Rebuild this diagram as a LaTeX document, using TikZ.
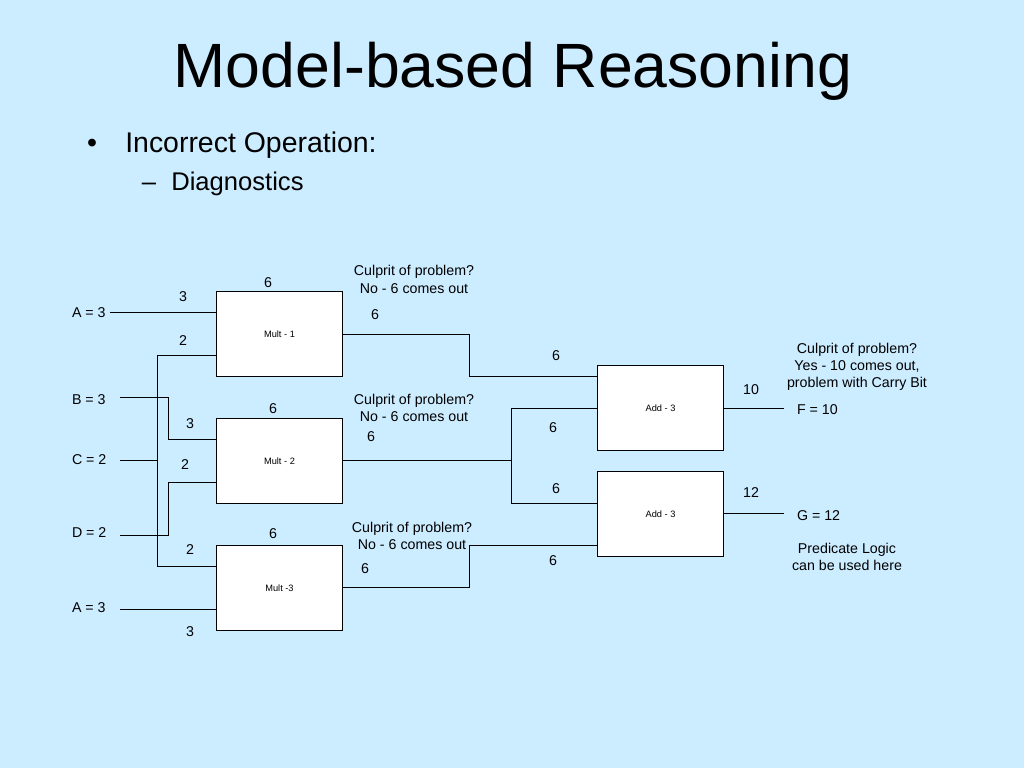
\documentclass[tikz,border=0pt]{standalone}
\usepackage{fontspec}
\setmainfont{Liberation Sans}
\definecolor{bg}{RGB}{204,236,255}
\begin{document}
\begin{tikzpicture}[x=0.703125pt,y=-0.703125pt,
  lbl/.style={inner sep=0pt, outer sep=0pt, font=\fontsize{10}{12}\selectfont, anchor=base},
  lblw/.style={lbl, anchor=base west},
  gate/.style={draw, fill=white, line width=0.8pt, minimum width=88.59pt, minimum height=59.77pt, inner sep=0pt, outer sep=0pt, font=\fontsize{6.5}{8}\selectfont},
  wire/.style={line width=0.8pt}]
\fill[bg] (0,0) rectangle (1024,768);
\useasboundingbox (0,0) rectangle (1024,768);

% title and bullets
\node[inner sep=0pt, anchor=base, font=\fontsize{44}{53}\selectfont] (title) at (513,88) {Model-based Reasoning};
\node[inner sep=0pt, anchor=base, font=\fontsize{20}{24}\selectfont] (b1) at (92,153) {•};
\node[inner sep=0pt, anchor=base west, font=\fontsize{20}{24}\selectfont] (t1) at (125,153) {Incorrect Operation:};
\node[inner sep=0pt, anchor=base, font=\fontsize{18}{22}\selectfont] (b2) at (149,191) {–};
\node[inner sep=0pt, anchor=base west, font=\fontsize{18}{22}\selectfont] (t2) at (171,191) {Diagnostics};

% gates
\node[gate] (m1) at (279.5,334) {Mult - 1};
\node[gate] (m2) at (279.5,461) {Mult - 2};
\node[gate] (m3) at (279.5,588) {Mult -3};
\node[gate] (a1) at (660.5,408) {Add - 3};
\node[gate] (a2) at (660.5,514) {Add - 3};

% input labels
\node[lblw] (lA1) at (72,318) {A = 3};
\node[lblw] (lB) at (72,404) {B = 3};
\node[lblw] (lC) at (72,464) {C = 2};
\node[lblw] (lD) at (72,537) {D = 2};
\node[lblw] (lA2) at (72,612) {A = 3};

% coordinates
\coordinate (inA1) at (110,312.5);
\coordinate (jc1) at (157.5,355.5);
\coordinate (jc2) at (157.5,566.5);
\coordinate (inC) at (120,460.5);
\coordinate (inB) at (120,397.5);
\coordinate (jb) at (168.5,397.5);
\coordinate (jb2) at (168.5,439.5);
\coordinate (inD) at (120,535.5);
\coordinate (jd) at (168.5,535.5);
\coordinate (jd2) at (168.5,482.5);
\coordinate (inA2) at (120,609.5);
\coordinate (o1) at (469.5,334.5);
\coordinate (o1b) at (469.5,376.5);
\coordinate (j2) at (511.5,460.5);
\coordinate (j2a) at (511.5,408.5);
\coordinate (j2b) at (511.5,503.5);
\coordinate (o3) at (469.5,587.5);
\coordinate (o3b) at (469.5,545.5);
\coordinate (outF) at (783.5,408.5);
\coordinate (outG) at (783.5,513.5);

% wires
\draw[wire] (inA1) -- (inA1 -| m1.west);
\draw[wire] (m1.west |- jc1) -- (jc1) -- (jc2) -- (jc2 -| m3.west);
\draw[wire] (inC) -- (inC -| jc1);
\draw[wire] (inB) -- (jb) -- (jb2) -- (jb2 -| m2.west);
\draw[wire] (inD) -- (jd) -- (jd2) -- (jd2 -| m2.west);
\draw[wire] (inA2) -- (inA2 -| m3.west);
\draw[wire] (m1.east |- o1) -- (o1) -- (o1b) -- (o1b -| a1.west);
\draw[wire] (m2.east |- j2) -- (j2);
\draw[wire] (j2a -| a1.west) -- (j2a) -- (j2b) -- (j2b -| a2.west);
\draw[wire] (m3.east |- o3) -- (o3) -- (o3b) -- (o3b -| a2.west);
\draw[wire] (a1.east |- outF) -- (outF);
\draw[wire] (a2.east |- outG) -- (outG);

% value labels
\node[lbl] (v1) at (183,302) {3};
\node[lbl] (v2) at (183,345) {2};
\node[lbl] (v3) at (190,428) {3};
\node[lbl] (v4) at (185,469) {2};
\node[lbl] (v5) at (190,554) {2};
\node[lbl] (v6) at (190,636) {3};
\node[lbl] (v7) at (268,287) {6};
\node[lbl] (v8) at (273,413) {6};
\node[lbl] (v9) at (273,538) {6};
\node[lbl] (v10) at (375,320) {6};
\node[lbl] (v11) at (371,441) {6};
\node[lbl] (v12) at (365,573) {6};
\node[lbl] (v13) at (556,360) {6};
\node[lbl] (v14) at (553,432) {6};
\node[lbl] (v15) at (556,493) {6};
\node[lbl] (v16) at (553,565) {6};
\node[lbl] (v17) at (751,394) {10};
\node[lbl] (v18) at (751,497) {12};

% notes
\node[lbl] (c1a) at (414,276) {Culprit of problem?};
\node[lbl] (c1b) at (414,293) {No - 6 comes out};
\node[lbl] (c2a) at (414,404) {Culprit of problem?};
\node[lbl] (c2b) at (414,421) {No - 6 comes out};
\node[lbl] (c3a) at (412,532) {Culprit of problem?};
\node[lbl] (c3b) at (412,549) {No - 6 comes out};
\node[lbl] (c4a) at (857,353) {Culprit of problem?};
\node[lbl] (c4b) at (857,370) {Yes - 10 comes out,};
\node[lbl] (c4c) at (857,387) {problem with Carry Bit};
\node[lblw] (lF) at (797,414) {F = 10};
\node[lblw] (lG) at (797,520) {G = 12};
\node[lbl] (p1) at (847,553) {Predicate Logic};
\node[lbl] (p2) at (847,570) {can be used here};
\end{tikzpicture}
\end{document}
